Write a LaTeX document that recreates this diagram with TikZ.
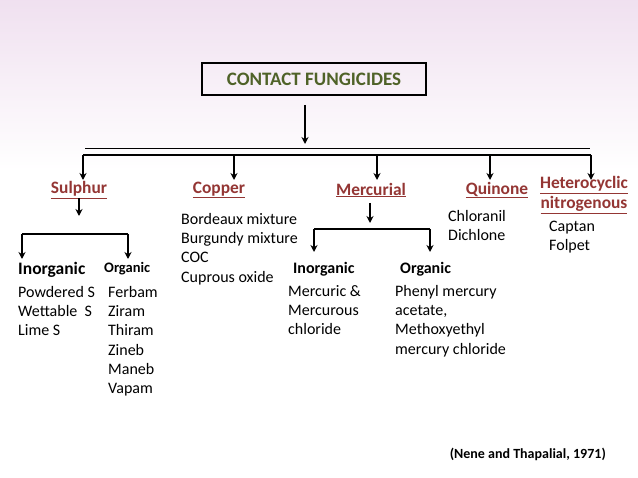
\documentclass[tikz,border=0pt]{standalone}
\usepackage{fontspec}
\setmainfont{Carlito}
\usetikzlibrary{arrows.meta}
\definecolor{headred}{HTML}{943634}
\definecolor{titlegreen}{HTML}{4F6228}
\tikzset{
 x=1pt,y=-1pt,
 arr/.style={-{Stealth[length=7pt,width=7pt]},line width=1.6pt},
 thick line/.style={line width=2pt},
 head/.style={font=\fontsize{17.4}{19}\selectfont\bfseries,text=headred,inner sep=1pt},
 sub/.style={font=\fontsize{16}{18}\selectfont\bfseries,anchor=west,inner sep=0pt},
 lst/.style={font=\fontsize{16}{19.3}\selectfont,align=left,anchor=north west,inner sep=0pt},
}
\begin{document}
\begin{tikzpicture}
\useasboundingbox (0,0) rectangle (638,478);
\shade[top color=violet!12,bottom color=white] (0,0) rectangle (638,170);
\fill[white] (0,170) rectangle (638,478);
\node[draw,line width=2pt,minimum width=224pt,minimum height=32pt,font=\fontsize{19}{21}\selectfont\bfseries,text=titlegreen] (title) at (314,79.5) {CONTACT FUNGICIDES};
\coordinate (t1) at (305,105);
\coordinate (t2) at (305,144);
\draw[arr] (t1) -- (t2);
\coordinate (h1) at (85,148); \coordinate (h2) at (590,148);
\draw[line width=0.6pt] (h1) -- (h2);
\coordinate (b1) at (83,155); \coordinate (b5) at (591,155);
\draw[thick line] (b1) -- (b5);
\foreach \x/\n in {83/a,234/b,377/c,490/d,591/e}{
 \coordinate (s\n) at (\x,155); \coordinate (e\n) at (\x,180);
 \draw[arr] (s\n) -- (e\n);}
\node[head] (sul) at (79,190) {\underline{Sulphur}};
\node[head] (cop) at (219,190) {\underline{Copper}};
\node[head] (mer) at (371,190) {\underline{Mercurial}};
\node[head] (qui) at (497,190) {\underline{Quinone}};
\node[head,align=center] (het) at (584,195) {\underline{Heterocyclic}\\[1pt]\underline{nitrogenous}};
% sulphur split
\coordinate (sa) at (79,198); \coordinate (sb) at (79,216);
\draw[arr] (sa) -- (sb);
\coordinate (sl) at (22,234); \coordinate (sr) at (128,234);
\coordinate (sle) at (22,259); \coordinate (sre) at (128,259);
\draw[thick line] (sl) -- (sr);
\draw[arr] (sl) -- (sle);
\draw[arr] (sr) -- (sre);
\node[sub,font=\fontsize{17.5}{19}\selectfont\bfseries] (sin) at (18,270) {Inorganic};
\node[sub,font=\fontsize{14.5}{16}\selectfont\bfseries] (sor) at (104,269) {Organic};
\node[lst] (sl1) at (18,286) {Powdered S\\Wettable~ S\\Lime S};
\node[lst] (sl2) at (108,286) {Ferbam\\Ziram\\Thiram\\Zineb\\Maneb\\Vapam};
\node[lst] (cl) at (181,213) {Bordeaux mixture\\Burgundy mixture\\COC\\Cuprous oxide};
% mercurial split
\coordinate (ma) at (370,203); \coordinate (mb) at (370,223);
\draw[arr] (ma) -- (mb);
\coordinate (ml) at (314,229); \coordinate (mr) at (430,229);
\coordinate (mle) at (314,252); \coordinate (mre) at (430,252);
\draw[thick line] (ml) -- (mr);
\draw[arr] (ml) -- (mle);
\draw[arr] (mr) -- (mre);
\node[sub] (min) at (293,269) {Inorganic};
\node[sub] (mor) at (400,269) {Organic};
\node[lst] (ml1) at (288,285) {Mercuric \&\\Mercurous\\chloride};
\node[lst] (ml2) at (395,285) {Phenyl mercury\\acetate,\\Methoxyethyl\\mercury chloride};
\node[lst] (ql) at (448,210) {Chloranil\\Dichlone};
\node[lst] (hl) at (549,221) {Captan\\Folpet};
\node[font=\fontsize{14}{16}\selectfont\bfseries,anchor=east,inner sep=0pt] (cite) at (606,454) {(Nene and Thapalial, 1971)};
\end{tikzpicture}
\end{document}
